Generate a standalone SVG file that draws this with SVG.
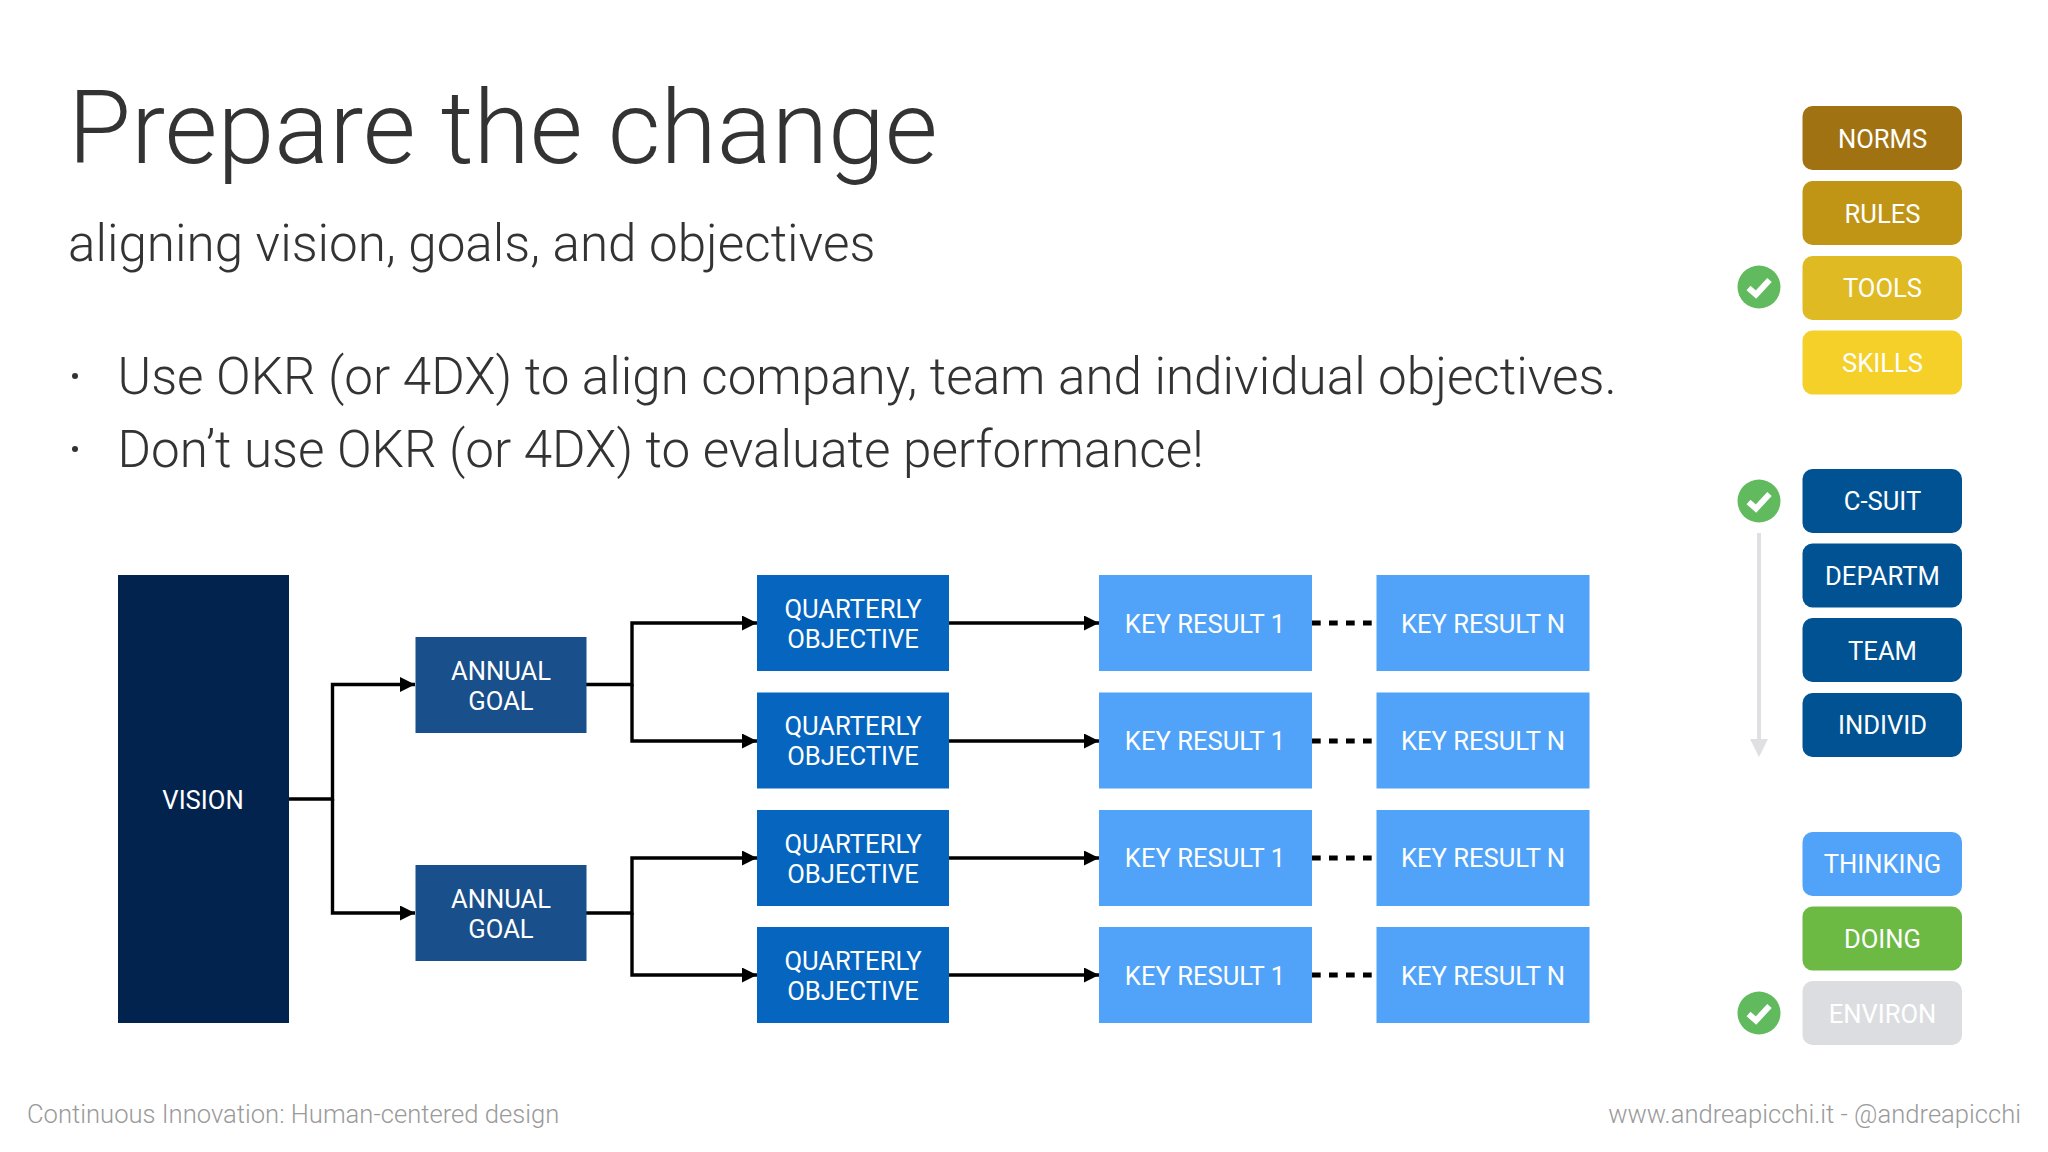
<svg xmlns="http://www.w3.org/2000/svg" width="2048" height="1152" viewBox="0 0 2048 1152">
<defs>
<style>
text{font-family:Roboto,"Liberation Sans",sans-serif}
.t{fill:#fff;font-size:25.6px;text-anchor:middle;font-weight:400}
.l{fill:none;stroke:#000;stroke-width:3.4}
.d{fill:none;stroke:#000;stroke-width:5;stroke-dasharray:8.7 8.3}
.body{font-size:51.2px;font-weight:300;fill:#333}
.foot{font-size:25.6px;font-weight:300;fill:#9a9a9a}
.chk{fill:none;stroke:#fff;stroke-width:6}
</style>
<marker id="a" markerUnits="userSpaceOnUse" markerWidth="15" markerHeight="15" refX="15" refY="7.500" orient="auto"><path d="M0 0L15 7.500L0 15Z" fill="#000"/></marker>
<g id="ck"><circle r="21.5" fill="#61bb5e"/><path class="chk" d="M-10.500 1L-3 7.500L10.500-7"/></g>
</defs>
<rect width="2048" height="1152" fill="#fff"/>
<text id="title" x="68" y="163" font-size="102.400" font-weight="300" fill="#333">Prepare the change</text>
<text id="subtitle" x="68" y="261" font-size="51.200" font-weight="300" fill="#333">aligning vision, goals, and objectives</text>
<g id="bullets">
<circle cx="75" cy="376" r="3" fill="#333"/><text class="body" x="117.500" y="394">Use OKR (or 4DX) to align company, team and individual objectives.</text>
<circle cx="75" cy="449" r="3" fill="#333"/><text class="body" x="117.500" y="467">Don’t use OKR (or 4DX) to evaluate performance!</text>
</g>
<g id="connectors">
<path class="l" d="M289 799H332.500V684.500H415" marker-end="url(#a)"/>
<path class="l" d="M332.500 799V913H415" marker-end="url(#a)"/>
<path class="l" d="M586 684.500H632V623H757" marker-end="url(#a)"/>
<path class="l" d="M632 684.500V741H757" marker-end="url(#a)"/>
<path class="l" d="M586 913H632V858H757" marker-end="url(#a)"/>
<path class="l" d="M632 913V975H757" marker-end="url(#a)"/>
<path class="l" d="M949 623H1099" marker-end="url(#a)"/>
<path class="l" d="M949 741H1099" marker-end="url(#a)"/>
<path class="l" d="M949 858H1099" marker-end="url(#a)"/>
<path class="l" d="M949 975H1099" marker-end="url(#a)"/>
<path class="d" d="M1312 623H1373"/><path class="d" d="M1312 741H1373"/><path class="d" d="M1312 858H1373"/><path class="d" d="M1312 975H1373"/>
<path d="M1759 533V741" stroke="#e0e0e4" stroke-width="4" fill="none"/><path d="M1750 739H1768L1759 757Z" fill="#e0e0e4"/>
</g>
<g id="vision"><rect x="118" y="575" width="171" height="448" fill="#03234f"/><text class="t" x="203" y="809">VISION</text></g>
<g id="goal1"><rect x="415.500" y="637" width="171" height="96" fill="#194f8a"/><text class="t" x="501" y="680">ANNUAL</text><text class="t" x="501" y="710">GOAL</text></g>
<g id="goal2"><rect x="415.500" y="865" width="171" height="96" fill="#194f8a"/><text class="t" x="501" y="908">ANNUAL</text><text class="t" x="501" y="938">GOAL</text></g>
<g id="q1"><rect x="757" y="575" width="192" height="96" fill="#0565bf"/><text class="t" x="853" y="618">QUARTERLY</text><text class="t" x="853" y="648">OBJECTIVE</text></g>
<g id="q2"><rect x="757" y="692.500" width="192" height="96" fill="#0565bf"/><text class="t" x="853" y="735">QUARTERLY</text><text class="t" x="853" y="765">OBJECTIVE</text></g>
<g id="q3"><rect x="757" y="810" width="192" height="96" fill="#0565bf"/><text class="t" x="853" y="853">QUARTERLY</text><text class="t" x="853" y="883">OBJECTIVE</text></g>
<g id="q4"><rect x="757" y="927" width="192" height="96" fill="#0565bf"/><text class="t" x="853" y="970">QUARTERLY</text><text class="t" x="853" y="1000">OBJECTIVE</text></g>
<g id="k1"><rect x="1099" y="575" width="213" height="96" fill="#50a3f8"/><text class="t" x="1205" y="633">KEY RESULT 1</text></g>
<g id="k2"><rect x="1099" y="692.500" width="213" height="96" fill="#50a3f8"/><text class="t" x="1205" y="750">KEY RESULT 1</text></g>
<g id="k3"><rect x="1099" y="810" width="213" height="96" fill="#50a3f8"/><text class="t" x="1205" y="867">KEY RESULT 1</text></g>
<g id="k4"><rect x="1099" y="927" width="213" height="96" fill="#50a3f8"/><text class="t" x="1205" y="985">KEY RESULT 1</text></g>
<g id="n1"><rect x="1376.500" y="575" width="213" height="96" fill="#50a3f8"/><text class="t" x="1483" y="633">KEY RESULT N</text></g>
<g id="n2"><rect x="1376.500" y="692.500" width="213" height="96" fill="#50a3f8"/><text class="t" x="1483" y="750">KEY RESULT N</text></g>
<g id="n3"><rect x="1376.500" y="810" width="213" height="96" fill="#50a3f8"/><text class="t" x="1483" y="867">KEY RESULT N</text></g>
<g id="n4"><rect x="1376.500" y="927" width="213" height="96" fill="#50a3f8"/><text class="t" x="1483" y="985">KEY RESULT N</text></g>
<g id="norms"><rect x="1802.500" y="106" width="159.500" height="64" rx="10" fill="#a17211"/><text class="t" x="1882.500" y="148">NORMS</text></g>
<g id="rules"><rect x="1802.500" y="181" width="159.500" height="64" rx="10" fill="#c09516"/><text class="t" x="1882.500" y="223">RULES</text></g>
<g id="tools"><rect x="1802.500" y="256" width="159.500" height="64" rx="10" fill="#dfba23"/><text class="t" x="1882.500" y="297">TOOLS</text></g>
<g id="skills"><rect x="1802.500" y="330.500" width="159.500" height="64" rx="10" fill="#f4d029"/><text class="t" x="1882.500" y="372">SKILLS</text></g>
<g id="csuit"><rect x="1802.500" y="469" width="159.500" height="64" rx="10" fill="#005293"/><text class="t" x="1882.500" y="510">C-SUIT</text></g>
<g id="departm"><rect x="1802.500" y="543.500" width="159.500" height="64" rx="10" fill="#005293"/><text class="t" x="1882.500" y="585">DEPARTM</text></g>
<g id="team"><rect x="1802.500" y="618" width="159.500" height="64" rx="10" fill="#005293"/><text class="t" x="1882.500" y="660">TEAM</text></g>
<g id="individ"><rect x="1802.500" y="693" width="159.500" height="64" rx="10" fill="#005293"/><text class="t" x="1882.500" y="734">INDIVID</text></g>
<g id="thinking"><rect x="1802.500" y="832" width="159.500" height="64" rx="10" fill="#50a3f8"/><text class="t" x="1882.500" y="873">THINKING</text></g>
<g id="doing"><rect x="1802.500" y="906.500" width="159.500" height="64" rx="10" fill="#6cb944"/><text class="t" x="1882.500" y="948">DOING</text></g>
<g id="environ"><rect x="1802.500" y="981" width="159.500" height="64" rx="10" fill="#dcdde0"/><text class="t" x="1882.500" y="1023">ENVIRON</text></g>
<use id="check1" href="#ck" x="1759" y="287"/>
<use id="check2" href="#ck" x="1759" y="501"/>
<use id="check3" href="#ck" x="1759" y="1013"/>
<text id="foot-left" class="foot" x="27" y="1123">Continuous Innovation: Human-centered design</text>
<text id="foot-right" class="foot" x="2021" y="1123" text-anchor="end">www.andreapicchi.it - @andreapicchi</text>
</svg>
